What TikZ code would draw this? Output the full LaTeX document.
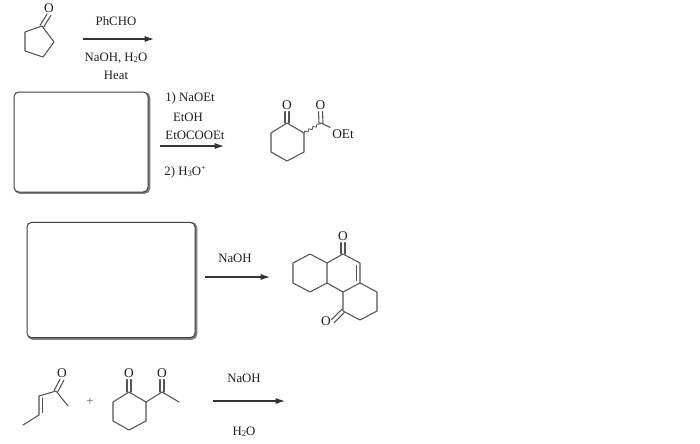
\documentclass[tikz,border=0pt]{standalone}
\usepackage{fontspec}
\setmainfont{Liberation Serif}
\usetikzlibrary{arrows.meta,decorations.pathmorphing}
\definecolor{bondc}{gray}{0.33}
\definecolor{txtc}{gray}{0.12}
\tikzset{
 x=0.75pt,y=-0.75pt,
 lab/.style={inner sep=0pt,text=txtc,font=\fontsize{9.6}{11}\selectfont},
 atom/.style={inner sep=1.4pt,text=txtc,font=\fontsize{10}{11}\selectfont},
 bond/.style={draw=bondc,line width=0.8pt,line join=round,line cap=round},
 rxn/.style={draw=black!80,line width=0.9pt,-{Latex[length=7pt,width=4.6pt]}},
 answerbox/.style={draw=black!75,line width=0.75pt,fill=white,rounded corners=3.5pt},
 boxshadow/.style={draw=black!50,line width=2.2pt,rounded corners=3.5pt},
 wavy/.style={draw=bondc,line width=0.6pt,decorate,decoration={snake,amplitude=0.9pt,segment length=3.6pt}},
}
\newcommand{\tsub}[1]{\raisebox{-0.25ex}{\fontsize{6.5}{7}\selectfont #1}}
\newcommand{\tsup}[1]{\raisebox{0.8ex}{\fontsize{6}{7}\selectfont #1}}
\begin{document}
\begin{tikzpicture}
\useasboundingbox (0,0) rectangle (700,443);
\fill[white] (0,0) rectangle (700,443);
% --- cyclopentanone
\coordinate (p1) at (42,26); \coordinate (p2) at (54,42); \coordinate (p3) at (43,57);
\coordinate (p4) at (25,51); \coordinate (p5) at (25,32);
\node[atom] (pO) at (49,8) {O};
\draw[bond] (p1)--(p2)--(p3)--(p4)--(p5)--cycle;
\draw[bond] ([xshift=1.4pt,yshift=-0.55pt]p1)--([xshift=1.4pt,yshift=-0.55pt]pO.south);
\draw[bond] ([xshift=-1.4pt,yshift=0.55pt]p1)--([xshift=-1.4pt,yshift=0.55pt]pO.south);
% --- reaction 1
\coordinate (a1s) at (83,39); \coordinate (a1e) at (154,39);
\draw[rxn] (a1s)--(a1e);
\node[lab] (t1) at (116,21) {PhCHO};
\node[lab] (t2) at (116,58) {NaOH, H\tsub{2}O};
\node[lab] (t3) at (116,75) {Heat};
% --- box 1
\draw[boxshadow] (15.5,93.5) rectangle (149,192.5);
\node[answerbox,minimum width=100.5pt,minimum height=75pt] (box1) at (81,142) {};
% --- reaction 2
\coordinate (a2s) at (160,146); \coordinate (a2e) at (224,146);
\draw[rxn] (a2s)--(a2e);
\node[lab] (t4) at (190,98.5) {1) NaOEt};
\node[lab] (t5) at (188,117) {EtOH};
\node[lab] (t6) at (195,135.5) {EtOCOOEt};
\node[lab] (t7) at (185,172) {2) H\tsub{3}O\tsup{+}};
% --- keto ester
\coordinate (k1) at (287,123); \coordinate (k2) at (304,133); \coordinate (k3) at (304,152);
\coordinate (k4) at (287,161); \coordinate (k5) at (271,152); \coordinate (k6) at (271,133);
\coordinate (k7) at (321,123);
\node[atom] (kO1) at (287,105) {O};
\node[atom] (kO2) at (320.5,105) {O};
\node[atom] (kOEt) at (343,134) {OEt};
\draw[bond] (k1)--(k2)--(k3)--(k4)--(k5)--(k6)--cycle;
\draw[bond] ([xshift=-1.5pt]k1)--([xshift=-1.5pt]kO1.south);
\draw[bond] ([xshift=1.5pt]k1)--([xshift=1.5pt]kO1.south);
\draw[bond] ([xshift=-1.5pt]k7)--([xshift=-1.5pt]kO2.south);
\draw[bond] ([xshift=1.5pt]k7)--([xshift=1.5pt]kO2.south);
\draw[wavy] (k2)--(k7);
\draw[bond] (k7)--(kOEt.north west);
% --- box 2
\draw[boxshadow] (28.5,223.5) rectangle (196,338.5);
\node[answerbox,minimum width=126pt,minimum height=86.5pt] (box2) at (111,280) {};
% --- reaction 3
\coordinate (a3s) at (205,277); \coordinate (a3e) at (270,277);
\draw[rxn] (a3s)--(a3e);
\node[lab] (t8) at (235,258.5) {NaOH};
% --- tricycle
\coordinate (r1) at (310,254); \coordinate (r2) at (327,263); \coordinate (r3) at (327,283);
\coordinate (r4) at (310,292); \coordinate (r5) at (293,283); \coordinate (r6) at (293,263);
\coordinate (r7) at (343,254); \coordinate (r8) at (360,263); \coordinate (r9) at (360,283);
\coordinate (r10) at (343,292); \coordinate (r11) at (377,292); \coordinate (r12) at (377,311);
\coordinate (r13) at (360,320); \coordinate (r14) at (343,311);
\coordinate (rd1) at (356.5,265.5); \coordinate (rd2) at (356.5,280.5);
\node[atom] (rO1) at (343,236) {O};
\node[atom] (rO2) at (326,321) {O};
\draw[bond] (r1)--(r2)--(r3)--(r4)--(r5)--(r6)--cycle;
\draw[bond] (r2)--(r7)--(r8)--(r9)--(r10)--(r3);
\draw[bond] (rd1)--(rd2);
\draw[bond] (r9)--(r11)--(r12)--(r13)--(r14)--(r10);
\draw[bond] ([xshift=-1.5pt]r7)--([xshift=-1.5pt]rO1.south);
\draw[bond] ([xshift=1.5pt]r7)--([xshift=1.5pt]rO1.south);
\draw[bond] ([xshift=1pt,yshift=-1.1pt]r14)--([xshift=1pt,yshift=-1.1pt]rO2.east);
\draw[bond] ([xshift=-1pt,yshift=1.1pt]r14)--([xshift=-1pt,yshift=1.1pt]rO2.east);
% --- enone
\coordinate (e1) at (23,425); \coordinate (e2) at (39,415); \coordinate (e3) at (39,396);
\coordinate (e4) at (56,391); \coordinate (e5) at (68,406);
\coordinate (ed1) at (42.5,412.5); \coordinate (ed2) at (42.5,398);
\node[atom] (eO) at (62,373) {O};
\draw[bond] (e1)--(e2)--(e3)--(e4)--(e5);
\draw[bond] (ed1)--(ed2);
\draw[bond] ([xshift=1.4pt,yshift=-0.45pt]e4)--([xshift=1.4pt,yshift=-0.45pt]eO.south);
\draw[bond] ([xshift=-1.4pt,yshift=0.45pt]e4)--([xshift=-1.4pt,yshift=0.45pt]eO.south);
\node[lab,text=black!65] (plus) at (90,402) {+};
% --- acetyl cyclohexanone
\coordinate (c1) at (129,392); \coordinate (c2) at (146,402); \coordinate (c3) at (146,421);
\coordinate (c4) at (129,430); \coordinate (c5) at (113,421); \coordinate (c6) at (113,402);
\coordinate (c7) at (162,392); \coordinate (c8) at (179,402);
\node[atom] (cO1) at (129,373) {O};
\node[atom] (cO2) at (162,373) {O};
\draw[bond] (c1)--(c2)--(c3)--(c4)--(c5)--(c6)--cycle;
\draw[bond] (c2)--(c7)--(c8);
\draw[bond] ([xshift=-1.5pt]c1)--([xshift=-1.5pt]cO1.south);
\draw[bond] ([xshift=1.5pt]c1)--([xshift=1.5pt]cO1.south);
\draw[bond] ([xshift=-1.5pt]c7)--([xshift=-1.5pt]cO2.south);
\draw[bond] ([xshift=1.5pt]c7)--([xshift=1.5pt]cO2.south);
% --- reaction 4
\coordinate (a4s) at (213,401); \coordinate (a4e) at (285,401);
\draw[rxn] (a4s)--(a4e);
\node[lab] (t9) at (244,378.5) {NaOH};
\node[lab] (t10) at (244,432) {H\tsub{2}O};
\end{tikzpicture}
\end{document}
